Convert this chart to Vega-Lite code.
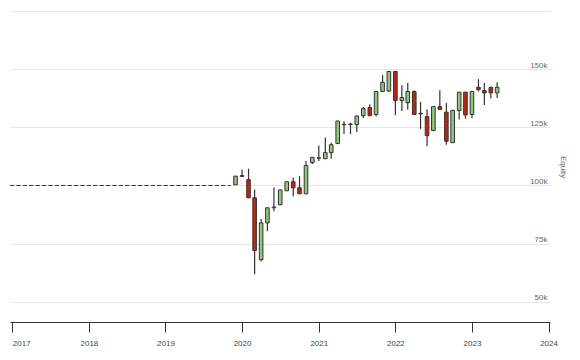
{
  "$schema": "https://vega.github.io/schema/vega-lite/v6.json",
  "width": 540,
  "height": 311,
  "autosize": {"type": "none"},
  "padding": {"left": 10, "top": 11, "right": 30, "bottom": 38},
  "background": "white",
  "config": {
    "view": {"stroke": null},
    "font": "Liberation Sans"
  },
  "datasets": {
    "candles": [
      {"date": "2019-12-01T00:00", "open": 100300, "high": 104000, "low": 100300, "close": 104000},
      {"date": "2020-01-01T00:00", "open": 104200, "high": 106900, "low": 103900, "close": 103900},
      {"date": "2020-02-01T00:00", "open": 102500, "high": 107200, "low": 94700, "close": 94700},
      {"date": "2020-03-01T00:00", "open": 94700, "high": 98300, "low": 61800, "close": 72000},
      {"date": "2020-04-01T00:00", "open": 68100, "high": 85600, "low": 67400, "close": 83900},
      {"date": "2020-05-01T00:00", "open": 83900, "high": 90400, "low": 80300, "close": 90400},
      {"date": "2020-06-01T00:00", "open": 90400, "high": 99100, "low": 88900, "close": 90700},
      {"date": "2020-07-01T00:00", "open": 91700, "high": 98100, "low": 91700, "close": 98100},
      {"date": "2020-08-01T00:00", "open": 97700, "high": 101600, "low": 97700, "close": 101600},
      {"date": "2020-09-01T00:00", "open": 101600, "high": 103300, "low": 95400, "close": 99000},
      {"date": "2020-10-01T00:00", "open": 99000, "high": 104000, "low": 96400, "close": 96400},
      {"date": "2020-11-01T00:00", "open": 96400, "high": 110500, "low": 96400, "close": 108600},
      {"date": "2020-12-01T00:00", "open": 109800, "high": 112100, "low": 109200, "close": 112100},
      {"date": "2021-01-01T00:00", "open": 111700, "high": 117200, "low": 110500, "close": 111900},
      {"date": "2021-02-01T00:00", "open": 111500, "high": 120600, "low": 111500, "close": 114100},
      {"date": "2021-03-01T00:00", "open": 114100, "high": 118400, "low": 111500, "close": 117500},
      {"date": "2021-04-01T00:00", "open": 118000, "high": 127700, "low": 118000, "close": 127700},
      {"date": "2021-05-01T00:00", "open": 126100, "high": 127600, "low": 122100, "close": 126300},
      {"date": "2021-06-01T00:00", "open": 126200, "high": 127000, "low": 122100, "close": 126400},
      {"date": "2021-07-01T00:00", "open": 126200, "high": 129900, "low": 123000, "close": 129900},
      {"date": "2021-08-01T00:00", "open": 130000, "high": 133700, "low": 129000, "close": 133000},
      {"date": "2021-09-01T00:00", "open": 133500, "high": 134900, "low": 130000, "close": 130000},
      {"date": "2021-10-01T00:00", "open": 130500, "high": 140400, "low": 129600, "close": 140400},
      {"date": "2021-11-01T00:00", "open": 140400, "high": 147500, "low": 140400, "close": 144300},
      {"date": "2021-12-01T00:00", "open": 140600, "high": 149000, "low": 140200, "close": 149000},
      {"date": "2022-01-01T00:00", "open": 149000, "high": 149000, "low": 130300, "close": 136500},
      {"date": "2022-02-01T00:00", "open": 136500, "high": 143100, "low": 132000, "close": 137800},
      {"date": "2022-03-01T00:00", "open": 135600, "high": 144000, "low": 132500, "close": 140400},
      {"date": "2022-04-01T00:00", "open": 140400, "high": 140800, "low": 130500, "close": 130500},
      {"date": "2022-05-01T00:00", "open": 131000, "high": 135900, "low": 124300, "close": 130800},
      {"date": "2022-06-01T00:00", "open": 129600, "high": 132800, "low": 116900, "close": 121400},
      {"date": "2022-07-01T00:00", "open": 123600, "high": 133900, "low": 123600, "close": 133900},
      {"date": "2022-08-01T00:00", "open": 133900, "high": 140900, "low": 132700, "close": 132700},
      {"date": "2022-09-01T00:00", "open": 131500, "high": 135500, "low": 117500, "close": 119000},
      {"date": "2022-10-01T00:00", "open": 118400, "high": 132300, "low": 118400, "close": 132300},
      {"date": "2022-11-01T00:00", "open": 132200, "high": 140100, "low": 128400, "close": 140100},
      {"date": "2022-12-01T00:00", "open": 140100, "high": 140100, "low": 128700, "close": 130300},
      {"date": "2023-01-01T00:00", "open": 130500, "high": 140400, "low": 128900, "close": 140400},
      {"date": "2023-02-01T00:00", "open": 142200, "high": 145700, "low": 140400, "close": 141200},
      {"date": "2023-03-01T00:00", "open": 140800, "high": 144000, "low": 134600, "close": 139800},
      {"date": "2023-04-01T00:00", "open": 142100, "high": 142700, "low": 137400, "close": 139800},
      {"date": "2023-05-01T00:00", "open": 139800, "high": 144400, "low": 137600, "close": 142200}
    ],
    "base": [
      {"date": "2016-12-21T00:00", "equity": 100000},
      {"date": "2019-11-08T00:00", "equity": 100000}
    ]
  },
  "encoding": {
    "x": {
      "field": "date",
      "type": "temporal",
      "scale": {
        "domain": [
          {"year": 2016, "month": 12, "date": 21},
          {"year": 2024, "month": 1, "date": 8}
        ],
        "padding": 0
      },
      "axis": {
        "title": null,
        "grid": false,
        "format": "%Y",
        "values": [
          {"year": 2017, "month": 1, "date": 1},
          {"year": 2018, "month": 1, "date": 1},
          {"year": 2019, "month": 1, "date": 1},
          {"year": 2020, "month": 1, "date": 1},
          {"year": 2021, "month": 1, "date": 1},
          {"year": 2022, "month": 1, "date": 1},
          {"year": 2023, "month": 1, "date": 1},
          {"year": 2024, "month": 1, "date": 1}
        ],
        "domainColor": "#333333",
        "domainWidth": 1,
        "tickColor": "#333333",
        "tickWidth": 1,
        "tickSize": 10,
        "labelFont": "Liberation Sans",
        "labelFontSize": 8,
        "labelColor": "#444444",
        "labelPadding": 7,
        "labelAlign": {
          "condition": {"test": "year(datum.value) == 2017", "value": "left"},
          "value": "center"
        }
      }
    }
  },
  "layer": [
    {
      "data": {"name": "base"},
      "mark": {"type": "line", "color": "#333333", "strokeWidth": 1, "strokeDash": [4.3, 2.1]},
      "encoding": {
        "y": {
          "field": "equity",
          "type": "quantitative",
          "scale": {"domain": [41300, 175000], "nice": false, "zero": false},
          "axis": {
            "orient": "right",
            "title": "Equity",
            "titleFont": "Liberation Sans",
            "titleFontSize": 8,
            "titleFontWeight": "normal",
            "titleColor": "#666666",
            "titleAngle": 90,
            "titlePadding": 8,
            "values": [50000, 75000, 100000, 125000, 150000, 175000],
            "labelExpr": "datum.value >= 175000 ? '' : format(datum.value / 1000, 'd') + 'k'",
            "grid": true,
            "gridColor": "#e6e6e6",
            "gridWidth": 1,
            "domain": false,
            "ticks": false,
            "labelAlign": "right",
            "labelBaseline": "alphabetic",
            "labelPadding": -3,
            "labelOffset": -2,
            "labelFont": "Liberation Sans",
            "labelFontSize": 8,
            "labelColor": "#666666"
          }
        }
      }
    },
    {
      "data": {"name": "candles"},
      "mark": {"type": "rule", "color": "#333333", "strokeWidth": 1.2},
      "encoding": {
        "y": {"field": "low", "type": "quantitative"},
        "y2": {"field": "high"}
      }
    },
    {
      "data": {"name": "candles"},
      "mark": {"type": "bar", "size": 3.6, "stroke": "#333333", "strokeWidth": 1},
      "encoding": {
        "y": {"field": "open", "type": "quantitative"},
        "y2": {"field": "close"},
        "color": {
          "condition": {"test": "datum.close >= datum.open", "value": "#8fc87a"},
          "value": "#c0260f"
        }
      }
    }
  ]
}
